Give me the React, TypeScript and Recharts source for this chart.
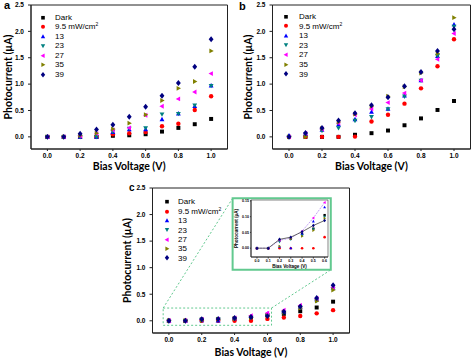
import React from 'react';
import { ScatterChart, Scatter, XAxis, YAxis, ReferenceArea, ReferenceLine, Legend } from 'recharts';

// bias voltage (V) for every measured point
const VOLTAGE = [0.0, 0.1, 0.2, 0.3, 0.4, 0.5, 0.6, 0.7, 0.8, 0.9, 1.0];
const X_TICKS = [0.0, 0.2, 0.4, 0.6, 0.8, 1.0];
const Y_TICKS = [0.0, 0.5, 1.0, 1.5, 2.0, 2.5];
const INSET_X_TICKS = [0.0, 0.1, 0.2, 0.3, 0.4, 0.5, 0.6];
const INSET_Y_TICKS = [0.0, 0.05, 0.1, 0.15];

// light intensity (mW/cm2), legend order
const LEVELS = ['Dark', '9.5', '13', '23', '27', '35', '39'];

// photocurrent (uA), one row per level
const CURRENT_A = [
  [0, 0, 0, 0, 0.02, 0.03, 0.05, 0.1, 0.17, 0.24, 0.34],
  [0, 0, 0, 0, 0.05, 0.07, 0.09, 0.2, 0.25, 0.51, 0.77],
  [0, 0, 0, 0, 0.09, 0.14, 0.14, 0.33, 0.44, 0.58, 0.97],
  [0, 0, 0, 0, 0.1, 0.16, 0.17, 0.43, 0.44, 0.6, 0.97],
  [0, 0, 0.02, 0.06, 0.13, 0.17, 0.41, 0.58, 0.72, 0.85, 1.2],
  [0, 0, 0.03, 0.07, 0.15, 0.26, 0.42, 0.69, 0.92, 1.05, 1.63],
  [0, 0, 0.06, 0.14, 0.23, 0.38, 0.57, 0.78, 1.02, 1.33, 1.85],
];

const CURRENT_B = [
  [0, 0, 0, 0, 0.04, 0.07, 0.12, 0.22, 0.35, 0.51, 0.68],
  [0, 0, 0, 0, 0.005, 0.29, 0.42, 0.63, 0.92, 1.34, 1.85],
  [0.025, 0.06, 0.13, 0.23, 0.33, 0.47, 0.53, 0.78, 1.07, 1.53, 2.13],
  [0, 0.05, 0.12, 0.17, 0.31, 0.38, 0.53, 0.77, 1.07, 1.54, 2.09],
  [0, 0.07, 0.15, 0.26, 0.42, 0.53, 0.65, 0.83, 1.07, 1.47, 1.96],
  [0, 0, 0.16, 0.28, 0.43, 0.58, 0.77, 0.95, 1.21, 1.58, 2.26],
  [0, 0.075, 0.17, 0.31, 0.45, 0.6, 0.75, 0.96, 1.23, 1.63, 2.04],
];

const CURRENT_C = [
  [0, 0, 0.025, 0.03, 0.045, 0.062, 0.105, 0.13, 0.18, 0.25, 0.36],
  [0, 0, 0, 0, 0, 0, 0.035, 0.06, 0.09, 0.14, 0.2],
  [0, 0, 0.005, 0, 0.045, 0.085, 0.13, 0.17, 0.26, 0.4, 0.62],
  [0, 0, 0.02, 0.028, 0.04, 0.06, 0.1, 0.16, 0.25, 0.38, 0.6],
  [0, 0, 0.025, 0.032, 0.054, 0.096, 0.145, 0.2, 0.29, 0.42, 0.63],
  [0, 0, 0.006, 0.03, 0.038, 0.056, 0.095, 0.16, 0.24, 0.37, 0.58],
  [0, 0, 0.028, 0.035, 0.052, 0.072, 0.088, 0.17, 0.27, 0.43, 0.67],
];

type Kind = 'square' | 'circle' | 'up' | 'down' | 'left' | 'right' | 'diamond';
const KINDS: Kind[] = ['square', 'circle', 'up', 'down', 'left', 'right', 'diamond'];
const COLORS = ['#000000', '#ff0000', '#0000ff', '#008080', '#ff00ff', '#808000', '#000080'];

const GREEN = '#62c98f';
const SANS = '"Liberation Sans", Arial, sans-serif';
const TITLE_FONT = 'Lato, "Open Sans", sans-serif';

function Marker({ kind, color, cx, cy, r }: { kind: Kind; color: string; cx: number; cy: number; r: number }) {
  const pts = (list: number[][]) => list.map(([dx, dy]) => `${cx + dx * r},${cy + dy * r}`).join(' ');
  switch (kind) {
    case 'square':
      return <rect x={cx - r * 0.9} y={cy - r * 0.9} width={r * 1.8} height={r * 1.8} fill={color} />;
    case 'circle':
      return <circle cx={cx} cy={cy} r={r} fill={color} />;
    case 'up':
      return <polygon points={pts([[0, -1.2], [1.1, 0.8], [-1.1, 0.8]])} fill={color} />;
    case 'down':
      return <polygon points={pts([[0, 1.2], [1.1, -0.8], [-1.1, -0.8]])} fill={color} />;
    case 'left':
      return <polygon points={pts([[-1.2, 0], [0.8, -1.1], [0.8, 1.1]])} fill={color} />;
    case 'right':
      return <polygon points={pts([[1.2, 0], [-0.8, -1.1], [-0.8, 1.1]])} fill={color} />;
    default:
      return <polygon points={pts([[0, -1.35], [1.1, 0], [0, 1.35], [-1.1, 0]])} fill={color} />;
  }
}

const toPoints = (xs: number[], ys: number[]) => ys.map((y, i) => ({ x: xs[i], y }));

function LegendBox({ iconW, rowH }: { iconW: number; rowH: number }) {
  return (
    <div style={{ fontFamily: SANS, fontSize: 8, color: '#000' }}>
      {LEVELS.map((name, i) => (
        <div key={name} style={{ display: 'flex', alignItems: 'center', height: rowH, whiteSpace: 'nowrap' }}>
          <svg width={iconW} height={rowH} style={{ display: 'block', flex: 'none' }}>
            <Marker kind={KINDS[i]} color={COLORS[i]} cx={6} cy={rowH / 2} r={2} />
          </svg>
          <span>
            {i === 1 ? (
              <>
                {name} mW/cm<span style={{ fontSize: 5, position: 'relative', top: -3 }}>2</span>
              </>
            ) : (
              name
            )}
          </span>
        </div>
      ))}
    </div>
  );
}

interface PanelProps {
  box: { left: number; top: number; width: number; height: number };
  plot: { left: number; top: number; right: number; bottom: number };
  rows: number[][];
  legend: { markerX: number; textX: number; firstY: number; rowH: number };
  yTitleX: number;
  xTitleBase: number;
  children?: React.ReactNode;
}

const TICK = { fontSize: 6.5, fontWeight: 700, fill: '#000', fontFamily: SANS };
const TITLE = { fontSize: 10.5, fontWeight: 700, fill: '#000', fontFamily: TITLE_FONT };

function Panel({ box, plot, rows, legend, yTitleX, xTitleBase, children }: PanelProps) {
  const margin = { top: plot.top - box.top, right: box.left + box.width - plot.right, bottom: 0, left: 0 };
  return (
    <div style={{ position: 'absolute', left: box.left, top: box.top }}>
      <ScatterChart width={box.width} height={box.height} margin={margin}>
        <XAxis
          type="number"
          dataKey="x"
          domain={[-0.1, 1.1]}
          allowDataOverflow
          ticks={X_TICKS}
          interval={0}
          height={box.top + box.height - plot.bottom}
          tickFormatter={(v: number) => v.toFixed(1)}
          tick={TICK}
          tickSize={2}
          tickMargin={2}
          stroke="#222"
          label={{
            value: 'Bias Voltage (V)',
            position: 'insideBottom',
            offset: box.top + box.height - xTitleBase,
            ...TITLE,
          }}
        />
        <YAxis
          type="number"
          dataKey="y"
          domain={[-0.23, 2.5]}
          allowDataOverflow
          ticks={Y_TICKS}
          interval={0}
          width={plot.left - box.left}
          tickFormatter={(v: number) => v.toFixed(1)}
          tick={TICK}
          tickSize={3}
          tickMargin={4}
          stroke="#222"
          label={{
            value: 'Photocurrent (\u00b5A)',
            angle: -90,
            position: 'insideLeft',
            offset: yTitleX - box.left,
            style: { textAnchor: 'middle' },
            ...TITLE,
          }}
        />
        <ReferenceArea x1={-0.1} x2={1.1} y1={-0.23} y2={2.5} fill="none" stroke="#222" strokeWidth={1} />
        {children}
        {rows.map((vals, i) => (
          <Scatter
            key={LEVELS[i]}
            name={LEVELS[i]}
            data={toPoints(VOLTAGE, vals)}
            isAnimationActive={false}
            shape={(p: any) => <Marker kind={KINDS[i]} color={COLORS[i]} cx={p.cx} cy={p.cy} r={2.2} />}
          />
        ))}
        <Legend
          layout="vertical"
          align="center"
          verticalAlign="middle"
          wrapperStyle={{
            left: legend.markerX - 6 - box.left,
            top: legend.firstY - legend.rowH / 2 - box.top,
            width: 80,
            height: legend.rowH * 7,
          }}
          content={() => <LegendBox iconW={legend.textX - legend.markerX + 6} rowH={legend.rowH} />}
        />
      </ScatterChart>
    </div>
  );
}

function Inset() {
  const rows = CURRENT_C.map((r) => r.slice(0, INSET_X_TICKS.length));
  const tick = { fontSize: 3.6, fontWeight: 700, fill: '#000', fontFamily: SANS };
  const title = { fontSize: 4.6, fontWeight: 700, fill: '#000', fontFamily: SANS };
  return (
    <div style={{ position: 'absolute', left: 233, top: 199 }}>
      <ScatterChart width={98} height={71} margin={{ top: 1, right: 3, bottom: 0, left: 0 }}>
        <XAxis
          type="number"
          dataKey="x"
          domain={[-0.053, 0.63]}
          allowDataOverflow
          ticks={INSET_X_TICKS}
          interval={0}
          height={13}
          tickFormatter={(v: number) => v.toFixed(1)}
          tick={tick}
          tickSize={1.5}
          tickMargin={1}
          stroke="#333"
          label={{ value: 'Bias Voltage (V)', position: 'insideBottom', offset: 2.5, ...title }}
        />
        <YAxis
          type="number"
          dataKey="y"
          domain={[-0.028, 0.153]}
          allowDataOverflow
          ticks={INSET_Y_TICKS}
          interval={0}
          width={18}
          tickFormatter={(v: number) => v.toFixed(2)}
          tick={tick}
          tickSize={1}
          tickMargin={1}
          stroke="#333"
          label={{
            value: 'Photocurrent (\u00b5A)',
            angle: -90,
            position: 'insideLeft',
            offset: 3.5,
            style: { textAnchor: 'middle' },
            ...title,
          }}
        />
        <ReferenceArea x1={-0.053} x2={0.63} y1={-0.028} y2={0.153} fill="none" stroke="#333" strokeWidth={0.6} />
        {rows.map((vals, i) => (
          <Scatter
            key={LEVELS[i]}
            data={toPoints(INSET_X_TICKS, vals)}
            isAnimationActive={false}
            line={
              i === 6
                ? { stroke: '#444', strokeWidth: 0.8 }
                : i === 4
                  ? { stroke: '#b48cf0', strokeWidth: 0.8, strokeDasharray: '2 1' }
                  : false
            }
            shape={(p: any) => <Marker kind={KINDS[i]} color={COLORS[i]} cx={p.cx} cy={p.cy} r={1.3} />}
          />
        ))}
      </ScatterChart>
    </div>
  );
}

const LETTER: React.CSSProperties = {
  position: 'absolute',
  fontFamily: SANS,
  fontWeight: 700,
  fontSize: 11,
  lineHeight: '11px',
  color: '#000',
};

export default function App() {
  return (
    <div style={{ position: 'absolute', left: 0, top: 0, width: 474, height: 363, background: '#fff', overflow: 'hidden' }}>
      <Panel
        box={{ left: 0, top: 0, width: 237, height: 172 }}
        plot={{ left: 31, top: 5, right: 227.5, bottom: 149 }}
        rows={CURRENT_A}
        legend={{ markerX: 43, textX: 55, firstY: 17.3, rowH: 9.5 }}
        yTitleX={8}
        xTitleBase={170}
      />
      <Panel
        box={{ left: 240, top: 0, width: 234, height: 172 }}
        plot={{ left: 272.5, top: 5, right: 470.5, bottom: 149 }}
        rows={CURRENT_B}
        legend={{ markerX: 286, textX: 299, firstY: 16.5, rowH: 9.6 }}
        yTitleX={248}
        xTitleBase={170}
      />
      <Panel
        box={{ left: 120, top: 183, width: 240, height: 180 }}
        plot={{ left: 152.5, top: 188, right: 349.5, bottom: 333 }}
        rows={CURRENT_C}
        legend={{ markerX: 167, textX: 178, firstY: 202, rowH: 9.35 }}
        yTitleX={127}
        xTitleBase={356}
      >
        <ReferenceArea x1={0.388} x2={0.986} y1={0.959} y2={2.306} fill="#fff" fillOpacity={1} stroke={GREEN} strokeWidth={2} />
        <ReferenceArea x1={-0.035} x2={0.625} y1={-0.085} y2={0.24} fill="none" stroke={GREEN} strokeWidth={1} strokeDasharray="2 2" />
        <ReferenceLine segment={[{ x: -0.035, y: 0.24 }, { x: 0.388, y: 2.306 }]} stroke={GREEN} strokeDasharray="2 2" />
        <ReferenceLine segment={[{ x: 0.625, y: 0.24 }, { x: 0.986, y: 0.959 }]} stroke={GREEN} strokeDasharray="2 2" />
      </Panel>
      <Inset />
      <div style={{ ...LETTER, left: 4, top: 0 }}>a</div>
      <div style={{ ...LETTER, left: 239, top: 1 }}>b</div>
      <div style={{ ...LETTER, left: 129, top: 182, fontSize: 10 }}>c</div>
    </div>
  );
}
